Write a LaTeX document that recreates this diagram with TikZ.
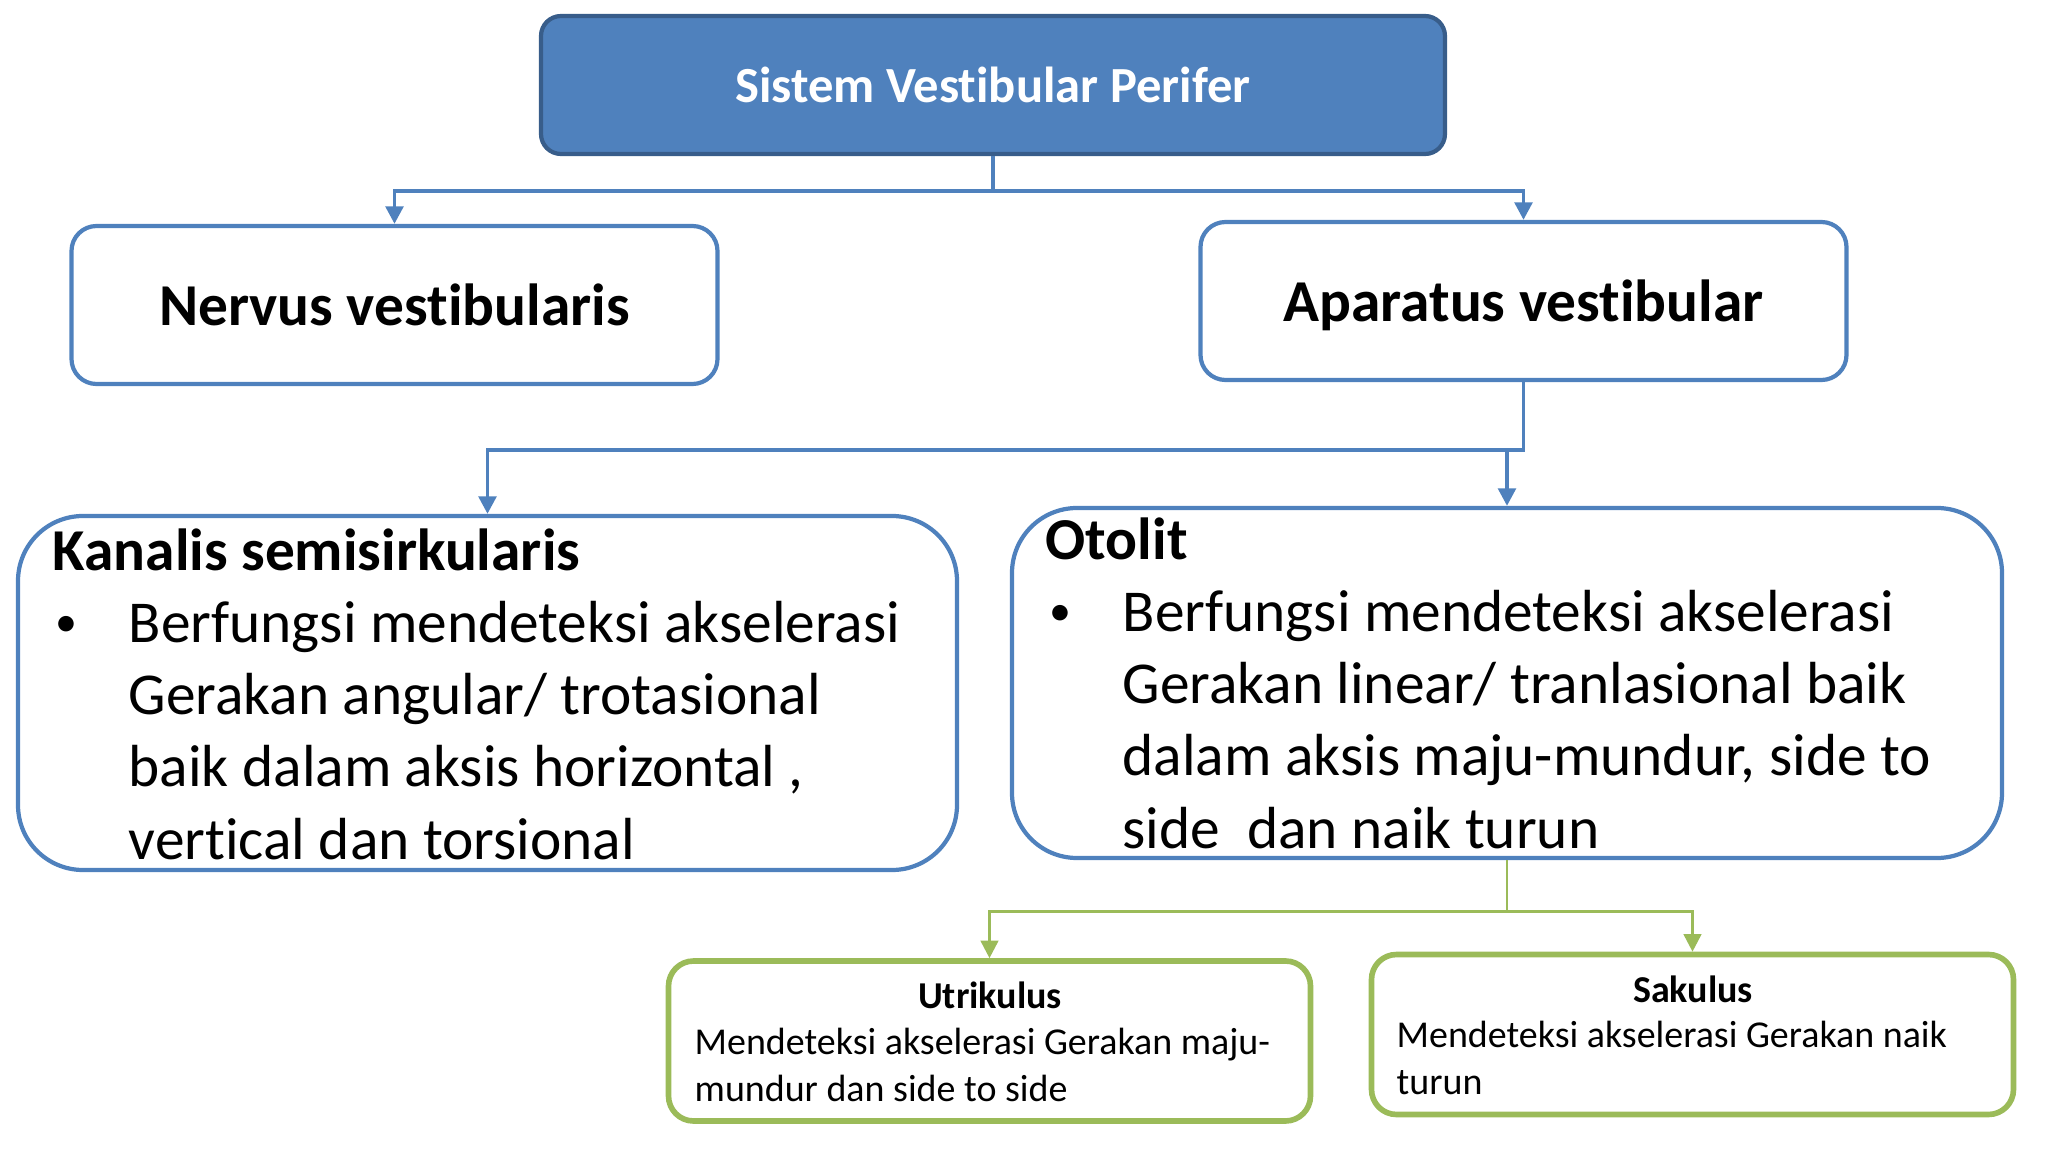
\documentclass[tikz,border=0pt]{standalone}
\usepackage{fontspec}
\setmainfont{Carlito}[Ligatures=NoCommon]
\usepackage{xcolor}
\usetikzlibrary{arrows.meta}
\definecolor{ofblue}{HTML}{4F81BD}
\definecolor{ofdark}{HTML}{385D8A}
\definecolor{ofgreen}{HTML}{9BBB59}

\begin{document}
\begin{tikzpicture}[
  topbox/.style={draw=ofdark,fill=ofblue,line width=1.2pt,rounded corners=0.2cm,
    minimum width=9.04cm,minimum height=1.38cm,text=white,
    font=\fontsize{14.4}{17}\selectfont\bfseries},
  headbox/.style={draw=ofblue,line width=1.2pt,rounded corners=0.25cm,
    minimum width=6.46cm,minimum height=1.58cm,text depth=0pt,
    font=\fontsize{16.9}{20.5}\selectfont\bfseries},
  bigbox/.style={draw=ofblue,line width=1.2pt,rounded corners=0.65cm},
  subbox/.style={draw=ofgreen,line width=1.6pt,rounded corners=0.25cm,
    minimum width=6.42cm,minimum height=1.6cm},
  big/.style={font=\fontsize{16.9}{20.5}\selectfont,inner sep=0pt,align=left,anchor=base west},
  bigb/.style={big,font=\fontsize{16.9}{20.5}\selectfont\bfseries},
  bul/.style={big,font=\fontsize{12.5}{15}\selectfont},
  small/.style={font=\fontsize{10.8}{13.1}\selectfont,inner sep=0pt,align=left,anchor=base west},
  smallb/.style={small,font=\fontsize{10.8}{13.1}\selectfont\bfseries,anchor=base},
  link/.style={draw=ofblue,line width=1.1pt,->},
  sublink/.style={draw=ofgreen,line width=0.8pt,->},
  >={Triangle[width=5pt,length=5pt]}
]
\useasboundingbox (0,0) rectangle (20.48,-11.52);
%% top level
\node[topbox] (sys) at (9.93,-0.85) {Sistem Vestibular Perifer};
\node[headbox] (nerv) at (3.945,-3.05) {Nervus vestibularis};
\node[headbox] (apar) at (15.235,-3.01) {Aparatus vestibular};
\draw[link] (sys.south) -- ++(0,-0.35) -| (nerv.north);
\draw[link] (sys.south) -- ++(0,-0.35) -| (apar.north);
%% aparatus vestibular
\node[bigbox,minimum width=9.39cm,minimum height=3.54cm] (kanal) at (4.875,-6.93) {};
\node[bigbox,minimum width=9.90cm,minimum height=3.50cm] (otol) at (15.07,-6.83) {};
\draw[link] (apar.south) -- ++(0,-0.68) -| (kanal.north);
\draw[link] (apar.south) -- ++(0,-0.68) -| (otol.north);
\node[bigb] (kantitle) at (0.52,-5.71) {Kanalis semisirkularis};
\node[bul] (kanbul) at (0.55,-6.36) {\textbullet};
% base = last line
\node[big] (kantext) at (1.28,-8.59)
  {Berfungsi mendeteksi akselerasi\\Gerakan angular/ trotasional\\
   baik dalam aksis horizontal ,\\vertical dan torsional};
\node[bigb] (ottitle) at (10.45,-5.60) {Otolit};
\node[bul] (otbul) at (10.49,-6.25) {\textbullet};
\node[big] (ottext) at (11.22,-8.48)
  {Berfungsi mendeteksi akselerasi\\Gerakan linear/ tranlasional baik\\
   dalam aksis maju-mundur, side to\\side~ dan naik turun};
%% otolit
\node[subbox] (utri) at (9.895,-10.41) {};
\node[subbox] (saku) at (16.925,-10.345) {};
\draw[sublink] (otol.south) -- ++(0,-0.51) -| (utri.north);
\draw[sublink] (otol.south) -- ++(0,-0.51) -| (saku.north);
\node[smallb] (utitle) at (9.90,-10.08) {Utrikulus};
\node[small] (utext) at (6.94,-11.01)
  {Mendeteksi akselerasi Gerakan maju-\\mundur dan side to side};
\node[smallb] (stitle) at (16.93,-10.02) {Sakulus};
\node[small] (stext) at (13.96,-10.94)
  {Mendeteksi akselerasi Gerakan naik\\turun};
\end{tikzpicture}
\end{document}
